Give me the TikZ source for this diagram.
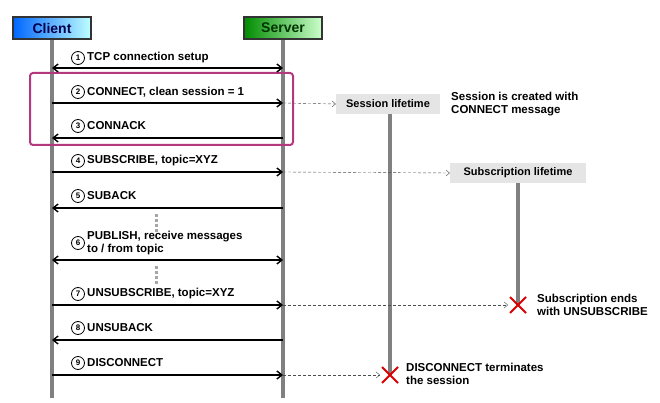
\documentclass[tikz,border=0pt]{standalone}
\usepackage{fontspec}
\setmainfont{Liberation Sans}
\usetikzlibrary{arrows.meta,calc}
\begin{document}
\begin{tikzpicture}[x=1pt,y=-1pt,
  lab/.style={font=\bfseries\fontsize{11.5}{13}\selectfont,anchor=west,inner sep=1pt},
  num/.style={circle,draw,thick,inner sep=0pt,minimum size=13pt,font=\bfseries\fontsize{8}{8}\selectfont},
  msg/.style={line width=1.4pt,-{Straight Barb[length=5pt,width=8pt]}},
  msg2/.style={line width=1.4pt,{Straight Barb[length=5pt,width=8pt]}-{Straight Barb[length=5pt,width=8pt]}},
  dsh/.style={densely dashed,black!70,-{Straight Barb[length=3.5pt,width=6pt]}},
  life/.style={line width=4pt,gray},
  hdr/.style={draw=black!80,line width=1.8pt,minimum width=78pt,minimum height=22pt,font=\bfseries\fontsize{14}{15}\selectfont},
  lt/.style={fill=gray!20,minimum height=20pt,font=\bfseries\fontsize{11}{13}\selectfont},
  xx/.style={red!85!black,line width=2pt}]
\useasboundingbox (0,0) rectangle (660,403);
\node[hdr,left color=blue!60!cyan,right color=cyan!25,text=blue!30!black] (client) at (52,28) {Client};
\node[hdr,left color=green!55!black,right color=green!20,text=green!20!black] (server) at (283,28) {Server};
\coordinate (ce) at (52,398); \coordinate (se) at (283,398);
\draw[life] (client.south) -- (ce);
\draw[life] (server.south) -- (se);
% session lifetime
\node[lt,minimum width=104pt] (sess) at (388,104) {Session lifetime};
\coordinate (sx) at (390,375);
\draw[life] (sess.south -| sx) -- (sx);
\node[lt,minimum width=136pt] (sub) at (518,173) {Subscription lifetime};
\coordinate (ux) at (518,305);
\draw[life] (sub.south) -- (ux);
\foreach \c in {sx,ux}{
 \draw[xx] ($(\c)+(-8,-8)$) -- ($(\c)+(8,8)$);
 \draw[xx] ($(\c)+(-8,8)$) -- ($(\c)+(8,-8)$);}
% magenta box
\node[draw=magenta!70!black,line width=2pt,rounded corners=3pt,minimum width=263pt,minimum height=72pt] (box) at (161.5,109) {};
% messages
\foreach \y/\n/\t in {58/1/TCP connection setup,92/2/{CONNECT, clean session = 1},126/3/CONNACK,161/4/{SUBSCRIBE, topic=XYZ},196/5/SUBACK,294/7/{UNSUBSCRIBE, topic=XYZ},328/8/UNSUBACK,363/9/DISCONNECT}{
 \node[num] (n\n) at (78,\y) {\n};
 \node[lab] (t\n) at (86,\y) {\t};}
\node[num] (n6) at (78,243) {6};
\node[lab,align=left] (t6) at (86,243) {PUBLISH, receive messages\\to / from topic};
\coordinate (c1) at (52,68); \coordinate (s1) at (283,68);
\draw[msg2] (c1) -- (s1);
\coordinate (c2) at (52,103); \coordinate (s2) at (283,103);
\draw[msg] (c2) -- (s2);
\coordinate (c3) at (52,138); \coordinate (s3) at (283,138);
\draw[msg] (s3) -- (c3);
\coordinate (c4) at (52,172); \coordinate (s4) at (283,172);
\draw[msg] (c4) -- (s4);
\coordinate (c5) at (52,208); \coordinate (s5) at (283,208);
\draw[msg] (s5) -- (c5);
\coordinate (c6) at (52,260); \coordinate (s6) at (283,260);
\draw[msg2] (c6) -- (s6);
\coordinate (c7) at (52,305); \coordinate (s7) at (283,305);
\draw[msg] (c7) -- (s7);
\coordinate (c8) at (52,340); \coordinate (s8) at (283,340);
\draw[msg] (s8) -- (c8);
\coordinate (c9) at (52,375); \coordinate (s9) at (283,375);
\draw[msg] (c9) -- (s9);
% dots
\foreach \y in {214,219,224,229,266,271,276,281} \fill[gray!70] (154.5,\y) rectangle (157.5,\y+3);
% dashed
\draw[dsh] (s2) -- (sess.west);
\draw[dsh] (s4) -- (sub.west);
\draw[dsh] (s7) -- ($(ux)+(-10,0)$);
\draw[dsh] (s9) -- ($(sx)+(-10,0)$);
% notes
\node[lab,align=left] (note1) at (450,104) {Session is created with\\CONNECT message};
\node[lab,align=left] (note2) at (536,305) {Subscription ends\\with UNSUBSCRIBE};
\node[lab,align=left] (note3) at (405,374) {DISCONNECT terminates\\the session};
\end{tikzpicture}
\end{document}
